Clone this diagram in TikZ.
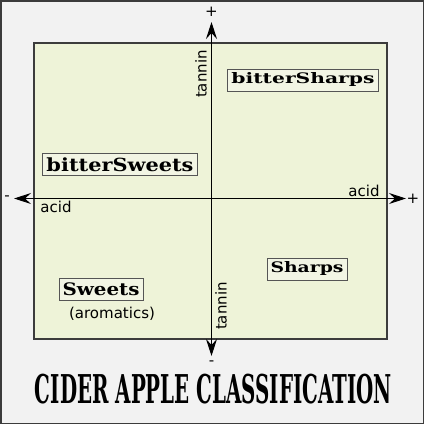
\documentclass[tikz,border=0pt]{standalone}
\usepackage{fontspec}
\usepackage{graphicx}
\setmainfont{DejaVu Sans}
\newfontfamily\quadfont{DejaVu Serif}
\usetikzlibrary{arrows.meta}
\definecolor{pagebg}{RGB}{242,242,242}
\definecolor{chartbg}{RGB}{238,243,216}
\definecolor{labelbg}{RGB}{242,245,228}
\definecolor{framegray}{RGB}{60,60,60}
\definecolor{labelgray}{RGB}{85,85,85}
\tikzset{
  axis/.style={line width=1pt, -{Stealth[length=17pt,width=11pt,inset=6pt]}},
  quad/.style={draw=labelgray, line width=1pt, fill=labelbg, inner xsep=3.5pt, inner ysep=0pt, minimum height=22pt, font=\quadfont\bfseries\fontsize{16}{16}\selectfont},
  axislabel/.style={font=\fontsize{15}{15}\selectfont, inner sep=0pt}
}
\begin{document}
\begin{tikzpicture}[x=1pt,y=-1pt]
            % Define page and chart area
            \useasboundingbox (0,0) rectangle (424,424);
            \draw[fill=pagebg, draw=framegray, line width=1.5pt] (0.75,0.75) rectangle (423.25,423.25);
            \draw[fill=chartbg, draw=framegray, line width=1.2pt] (34,43) rectangle (387,339);

            % Define axis ends
            \coordinate (O) at (211.5,198.5);
            \coordinate (T) at (211.5,22);
            \coordinate (B) at (211.5,356);
            \coordinate (L) at (14,198.5);
            \coordinate (R) at (406,198.5);

            % Draw axes
            \draw[axis] (O) -- (T);
            \draw[axis] (O) -- (B);
            \draw[axis] (O) -- (L);
            \draw[axis] (O) -- (R);

            % Axis signs and names
            \node[axislabel] (plusT) at (211.5,12) {+};
            \node[axislabel] (minusB) at (211.5,363) {-};
            \node[axislabel] (minusL) at (7,198) {-};
            \node[axislabel] (plusR) at (413,199) {+};
            \node[axislabel, rotate=90] (tanT) at (201,74) {tannin};
            \node[axislabel, rotate=90] (tanB) at (221,306) {tannin};
            \node[axislabel] (acidR) at (364,191) {acid};
            \node[axislabel] (acidL) at (56,207) {acid};

            % Define quadrant labels
            \node[quad] (BSh) at (303,80) {\resizebox*{143pt}{14pt}{bitterSharps}};
            \node[quad] (BSw) at (120,164.5) {\resizebox*{147pt}{14pt}{bitterSweets}};
            \node[quad] (Sw) at (101,289) {\resizebox*{77pt}{13pt}{Sweets}};
            \node[quad] (Sh) at (307,269) {\resizebox*{73pt}{14pt}{Sharps}};
            \node[axislabel] (arom) at (112,314) {(aromatics)};

            % Title
            \node[inner sep=0pt] (title) at (213.5,389) {\resizebox*{357pt}{30pt}{\quadfont\bfseries CIDER APPLE CLASSIFICATION}};
        \end{tikzpicture}
\end{document}
